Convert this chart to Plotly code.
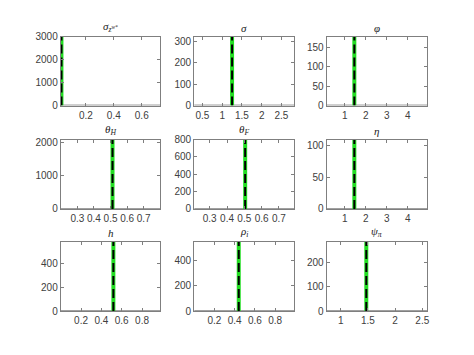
import plotly.graph_objects as go

# ---- data ----
titles = ["σ<sub>z<sup>w*</sup></sub>", "σ", "φ",
          "θ<sub>H</sub>", "θ<sub>F</sub>", "η",
          "h", "ρ<sub>i</sub>", "ψ<sub>π</sub>"]
modes = [0.025, 1.25, 1.45, 0.512, 0.505, 1.45, 0.518, 0.44, 1.47]
dens_peak = [3000, 324, 177, 2078, 800, 108.6, 575, 546, 287]
x_lo = [0.02, 0.29, 0.13, 0.20, 0.21, 0.13, 0.0, 0.0, 0.74]
x_hi = [0.733, 2.83, 4.92, 0.80, 0.79, 4.92, 0.98, 0.99, 2.59]
x_ticks = [[0.2, 0.4, 0.6], [0.5, 1, 1.5, 2, 2.5], [1, 2, 3, 4],
           [0.3, 0.4, 0.5, 0.6, 0.7], [0.3, 0.4, 0.5, 0.6, 0.7], [1, 2, 3, 4],
           [0.2, 0.4, 0.6, 0.8], [0.2, 0.4, 0.6, 0.8], [1, 1.5, 2, 2.5]]
y_ticks = [[0, 1000, 2000, 3000], [0, 100, 200, 300], [0, 50, 100, 150],
           [0, 1000, 2000], [0, 200, 400, 600, 800], [0, 50, 100],
           [0, 200, 400], [0, 200, 400], [0, 100, 200]]

W, H = 474, 355
col_px = [(61, 161), (195, 295.7), (328, 429)]
row_px = [(31.7, 103), (138.3, 210), (244.3, 315.7)]

fig = go.Figure()
annotations = []
for i in range(9):
    r, c = divmod(i, 3)
    n = i + 1
    xa = "x" if n == 1 else f"x{n}"
    ya = "y" if n == 1 else f"y{n}"
    # prior (flat relative to posterior)
    fig.add_trace(go.Scatter(x=[x_lo[i], x_hi[i]], y=[0, 0], mode="lines",
                             line=dict(color="#a0a0a0", width=2),
                             xaxis=xa, yaxis=ya, showlegend=False, hoverinfo="skip"))
    # mode line (green)
    fig.add_trace(go.Scatter(x=[modes[i], modes[i]], y=[0, dens_peak[i]], mode="lines",
                             line=dict(color="#22dd22", width=4),
                             xaxis=xa, yaxis=ya, showlegend=False, hoverinfo="skip"))
    # posterior (black dashed over)
    fig.add_trace(go.Scatter(x=[modes[i], modes[i]], y=[0, dens_peak[i]], mode="lines",
                             line=dict(color="black", width=2, dash="9px,4px"),
                             xaxis=xa, yaxis=ya, showlegend=False, hoverinfo="skip"))
    x0, x1 = col_px[c]
    y0, y1 = row_px[r]
    common = dict(showgrid=False, zeroline=False, showline=True, linecolor="#7f7f7f",
                  linewidth=1, mirror="ticks", ticks="inside", ticklen=3,
                  tickcolor="#7f7f7f", tickfont=dict(family="Liberation Sans, Arial", size=10, color="#404040"))
    fig.update_layout(**{
        ("xaxis" if n == 1 else f"xaxis{n}"): dict(
            domain=[x0 / W, x1 / W], range=[x_lo[i], x_hi[i]], tickvals=x_ticks[i],
            anchor=ya, **common),
        ("yaxis" if n == 1 else f"yaxis{n}"): dict(
            domain=[1 - y1 / H, 1 - y0 / H], range=[0, dens_peak[i]], tickvals=y_ticks[i],
            anchor=xa, **common),
    })
    annotations.append(dict(text=f"<i>{titles[i]}</i>", x=(x0 + x1) / 2 / W, y=1 - (y0 - 1) / H,
                            xref="paper", yref="paper", xanchor="center", yanchor="bottom",
                            showarrow=False,
                            font=dict(family="Liberation Serif, Times New Roman", size=11, color="#222222")))

fig.update_layout(width=W, height=H, margin=dict(l=0, r=0, t=0, b=0),
                  paper_bgcolor="white", plot_bgcolor="white", annotations=annotations)
fig.write_html("out.html")
